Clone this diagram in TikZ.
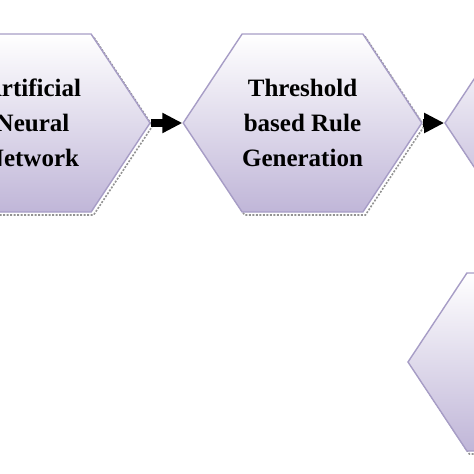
\documentclass[tikz,border=0pt]{standalone}
\usepackage{fontspec}
\setmainfont{Liberation Serif}
\usetikzlibrary{shapes.symbols,shadows,arrows.meta}
\definecolor{hexline}{HTML}{A79DC6}
\definecolor{hexfill}{HTML}{C0B6D8}
\tikzset{
  hexbox/.style={shape=signal, signal to=east and west, signal pointer angle=113,
    draw=hexline, line width=1.4pt, top color=white, bottom color=hexfill,
    minimum width=235pt, minimum height=178pt, inner sep=0pt,
    align=center, font=\bfseries\fontsize{25}{35}\selectfont,
    copy shadow={shadow xshift=2.5pt, shadow yshift=-3pt, draw=gray!85,
      line width=1.6pt, dash pattern=on 2pt off 1.5pt, fill=none}},
  flow/.style={line width=8pt, -{Triangle[length=20pt,width=19pt]}}
}
\begin{document}
\begin{tikzpicture}[x=1pt,y=-1pt]
\useasboundingbox (0,0) rectangle (474,474);
\node[hexbox] (ann) at (32.5,123) {Artificial\\Neural\\Network};
\node[hexbox] (rule) at (302.5,123) {Threshold\\based Rule\\Generation};
\node[hexbox] (next) at (562.5,123) {};
\node[hexbox] (low) at (525.5,362) {};
\draw[flow] (ann.east) -- (rule.west);
\draw[flow] (rule.east) -- (next.west);
\end{tikzpicture}
\end{document}
